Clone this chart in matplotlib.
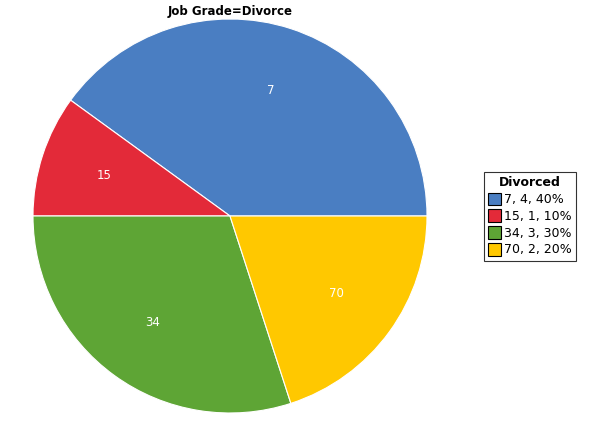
import matplotlib.pyplot as plt
from matplotlib.patches import Patch

# data
grades = ['7', '15', '34', '70']
counts = [4, 1, 3, 2]
shares = [40, 10, 30, 20]
colors = ['#4A7EC2', '#E32A39', '#5EA535', '#FFC800']

fig = plt.figure(figsize=(5.89, 4.34), dpi=100)
ax = fig.add_axes([33 / 589, 21 / 434, 394 / 589, 394 / 434])

wedges, texts = ax.pie(counts, labels=grades, colors=colors, startangle=0,
                       counterclock=True, labeldistance=0.67,
                       wedgeprops=dict(edgecolor='white', linewidth=0.8),
                       textprops=dict(color='white', fontsize=8.5))
for t in texts:
    t.set_ha('center')
    t.set_va('center')
ax.set_xlim(-1, 1)
ax.set_ylim(-1, 1)
ax.set_aspect('auto')

fig.text(230 / 589, 1 - 11 / 434, 'Job Grade=Divorce', ha='center', va='center',
         fontsize=8.5, fontweight='bold')

handles = [Patch(facecolor=c, edgecolor='black', linewidth=0.8) for c in colors]
labels = [f'{g}, {n}, {s}%' for g, n, s in zip(grades, counts, shares)]
leg = fig.legend(handles, labels, title='Divorced', loc='upper left',
                 bbox_to_anchor=(484 / 589, 1 - 172 / 434), fontsize=9,
                 title_fontproperties=dict(weight='bold', size=9),
                 frameon=True, fancybox=False, edgecolor='black',
                 handlelength=1.0, handleheight=1.2, handletextpad=0.25,
                 labelspacing=0.25, borderpad=0.35, borderaxespad=0)
leg.get_frame().set_linewidth(0.8)

fig.savefig('out.png', dpi=100)
